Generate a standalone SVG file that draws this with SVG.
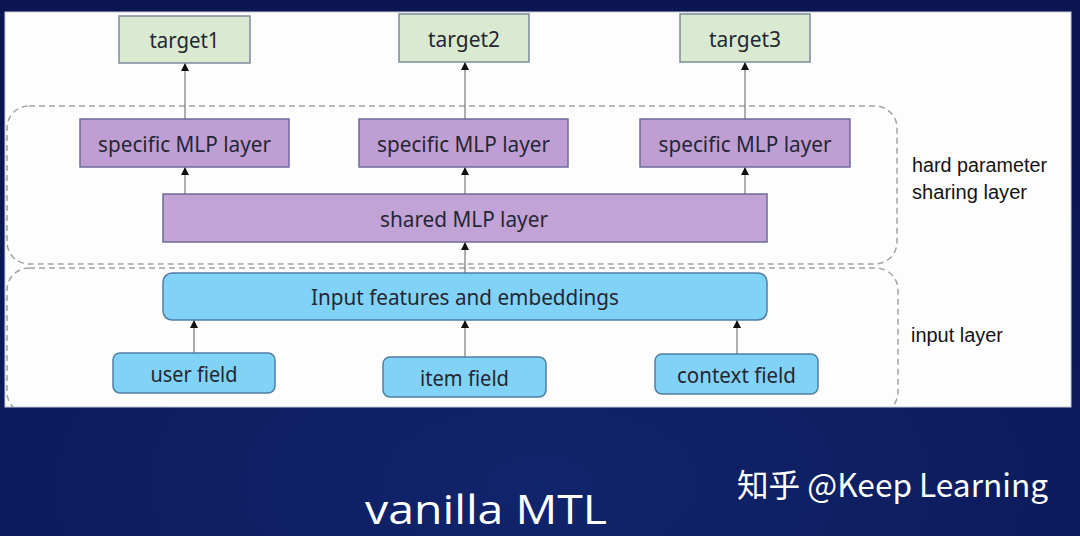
<svg xmlns="http://www.w3.org/2000/svg" width="1080" height="536" viewBox="0 0 1080 536">
  <defs>
    <radialGradient id="bg" cx="0.5" cy="0.9" r="0.8">
      <stop offset="0" stop-color="#11256c"/>
      <stop offset="1" stop-color="#0a1552"/>
    </radialGradient>
    <clipPath id="panelClip">
      <rect x="5" y="12" width="1066" height="395"/>
    </clipPath>
    <marker id="arr" viewBox="0 0 8 10" refX="8" refY="5" markerWidth="8" markerHeight="10" markerUnits="userSpaceOnUse" orient="auto">
      <path d="M0,1 L8,5 L0,9 Z" fill="#111"/>
    </marker>
    <style>
      .tgt { fill: #d9ead0; stroke: #7b8a9c; stroke-width: 1.5; }
      .mlp { fill: #bf9fd3; stroke: #6e6a9c; stroke-width: 1.5; }
      .shared { fill: #c2a3d6; stroke: #6e6a9c; stroke-width: 1.5; }
      .inp { fill: #80d3f6; stroke: #4f7ea3; stroke-width: 1.5; }
      .lbl { font-family: "Noto Sans", "Open Sans", sans-serif; font-size: 22px; fill: #262633; text-anchor: middle; }
      .side { font-family: "Liberation Sans", Arial, sans-serif; font-size: 19.5px; fill: #141414; }
      .dash { fill: none; stroke: #a3a3a3; stroke-width: 1.5; stroke-dasharray: 6 4; }
      .conn { stroke: #7a7a7a; stroke-width: 1.2; fill: none; marker-end: url(#arr); }
    </style>
  </defs>

  <rect x="0" y="0" width="1080" height="536" fill="url(#bg)"/>
  <rect id="panel" x="5" y="12" width="1066" height="395" fill="#fdfdfd" stroke="#c9ccd6" stroke-width="1"/>

  <g id="groups" clip-path="url(#panelClip)">
    <rect id="hard-sharing-region" class="dash" x="7" y="106" width="890" height="158" rx="22"/>
    <rect id="input-region" class="dash" x="7" y="268" width="891" height="146" rx="22"/>
  </g>

  <g id="connectors">
    <line class="conn" x1="185" y1="119" x2="185" y2="63"/>
    <line class="conn" x1="465" y1="119" x2="465" y2="62"/>
    <line class="conn" x1="745" y1="119" x2="745" y2="62"/>
    <line class="conn" x1="185" y1="194" x2="185" y2="167"/>
    <line class="conn" x1="465" y1="194" x2="465" y2="167"/>
    <line class="conn" x1="745" y1="194" x2="745" y2="167"/>
    <line class="conn" x1="465" y1="273" x2="465" y2="242"/>
    <line class="conn" x1="194" y1="353" x2="194" y2="320"/>
    <line class="conn" x1="465" y1="357" x2="465" y2="320"/>
    <line class="conn" x1="737" y1="354" x2="737" y2="320"/>
  </g>

  <g id="target1">
    <rect class="tgt" x="119" y="16" width="131" height="47"/>
    <text class="lbl" x="184.5" y="48" textLength="70" lengthAdjust="spacingAndGlyphs">target1</text>
  </g>
  <g id="target2">
    <rect class="tgt" x="399" y="14" width="130" height="48"/>
    <text class="lbl" x="464" y="47" textLength="72" lengthAdjust="spacingAndGlyphs">target2</text>
  </g>
  <g id="target3">
    <rect class="tgt" x="680" y="14" width="130" height="48"/>
    <text class="lbl" x="745" y="47" textLength="72" lengthAdjust="spacingAndGlyphs">target3</text>
  </g>

  <g id="specific1">
    <rect class="mlp" x="80" y="119" width="209" height="48"/>
    <text class="lbl" x="184.5" y="152" textLength="173" lengthAdjust="spacingAndGlyphs">specific MLP layer</text>
  </g>
  <g id="specific2">
    <rect class="mlp" x="359" y="119" width="209" height="48"/>
    <text class="lbl" x="463.5" y="152" textLength="173" lengthAdjust="spacingAndGlyphs">specific MLP layer</text>
  </g>
  <g id="specific3">
    <rect class="mlp" x="640" y="119" width="210" height="48"/>
    <text class="lbl" x="745" y="152" textLength="173" lengthAdjust="spacingAndGlyphs">specific MLP layer</text>
  </g>

  <g id="shared">
    <rect class="shared" x="163" y="194" width="604" height="48"/>
    <text class="lbl" x="464" y="227" textLength="168" lengthAdjust="spacingAndGlyphs">shared MLP layer</text>
  </g>

  <g id="input-features">
    <rect class="inp" x="163" y="273" width="604" height="47" rx="9"/>
    <text class="lbl" x="465" y="305" textLength="308" lengthAdjust="spacingAndGlyphs">Input features and embeddings</text>
  </g>

  <g id="user-field">
    <rect class="inp" x="113" y="353" width="162" height="40" rx="7"/>
    <text class="lbl" x="194" y="382" textLength="87" lengthAdjust="spacingAndGlyphs">user field</text>
  </g>
  <g id="item-field">
    <rect class="inp" x="383" y="357" width="163" height="40" rx="7"/>
    <text class="lbl" x="464.5" y="386" textLength="89" lengthAdjust="spacingAndGlyphs">item field</text>
  </g>
  <g id="context-field">
    <rect class="inp" x="655" y="354" width="163" height="40" rx="7"/>
    <text class="lbl" x="736.5" y="383" textLength="119" lengthAdjust="spacingAndGlyphs">context field</text>
  </g>

  <g id="labels">
    <text class="side" x="912" y="172" textLength="135" lengthAdjust="spacingAndGlyphs">hard parameter</text>
    <text class="side" x="912" y="199" textLength="115" lengthAdjust="spacingAndGlyphs">sharing layer</text>
    <text class="side" x="911" y="342" textLength="92" lengthAdjust="spacingAndGlyphs">input layer</text>
  </g>

  <text id="title" x="365" y="524" font-family="'Open Sans', 'Noto Sans', sans-serif" font-size="40" fill="#ffffff" textLength="242" lengthAdjust="spacingAndGlyphs">vanilla MTL</text>
  <text id="watermark" x="737" y="497" font-family="'Noto Sans CJK SC', 'Noto Sans', sans-serif" font-size="32" fill="#ffffff" textLength="311" lengthAdjust="spacingAndGlyphs">知乎 @Keep Learning</text>
</svg>
